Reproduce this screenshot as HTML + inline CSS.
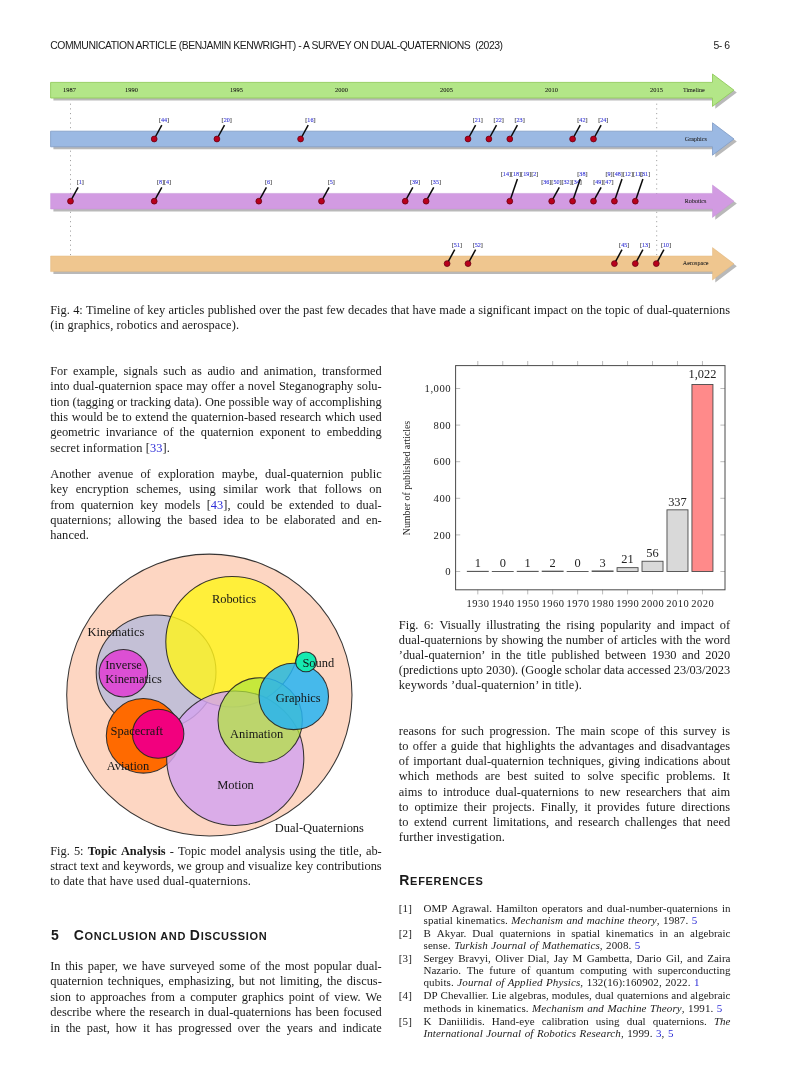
<!DOCTYPE html>
<html><head><meta charset="utf-8">
<style>
html,body{margin:0;padding:0;background:#fff;}
body{width:787px;height:1075px;position:relative;overflow:hidden;-webkit-font-smoothing:antialiased;font-family:"Liberation Serif",serif;color:#1a1a1a;}
.t{position:absolute;white-space:nowrap;letter-spacing:0.1px;}
.t.j{letter-spacing:0;}
.j{display:flex;justify-content:space-between;}
.b{color:#2b2bd6;}
svg{position:absolute;left:0;top:0;overflow:visible;}
.hdr{position:absolute;font-family:"Liberation Sans",sans-serif;font-size:10.4px;letter-spacing:-0.44px;line-height:12px;color:#1a1a1a;white-space:pre;}
.sec{position:absolute;font-family:"Liberation Sans",sans-serif;font-weight:bold;color:#1a1a1a;white-space:nowrap;line-height:16px;}
</style></head><body><div style="position:absolute;left:0;top:0;width:787px;height:1075px;will-change:transform;">
<div class="hdr" style="left:50.2px;top:39.80px;">COMMUNICATION ARTICLE (BENJAMIN KENWRIGHT) - A SURVEY ON DUAL-QUATERNIONS  (2023)</div>
<div class="hdr" style="left:713.4px;top:39.80px;">5- 6</div>
<svg width="787" height="300" style="left:0;top:0">
<defs><filter id="blur" x="-5%" y="-50%" width="110%" height="200%"><feGaussianBlur stdDeviation="0.6"/></filter></defs>
<style>.tl{font-family:"Liberation Serif",serif;font-size:6.1px;fill:#3434d4;stroke:#3434d4;stroke-width:0.1px;} .bk{fill:#333;stroke:#333;} .yl{font-family:"Liberation Serif",serif;font-size:6.4px;fill:#111;stroke:#111;stroke-width:0.05px;} .al{font-family:"Liberation Serif",serif;font-size:6.1px;fill:#222;stroke:#222;stroke-width:0.05px;}</style>
<line x1="70.5" y1="99" x2="70.5" y2="256" stroke="#8a8a8a" stroke-width="0.9" stroke-dasharray="1,3.7"/>
<line x1="656.7" y1="99" x2="656.7" y2="256" stroke="#8a8a8a" stroke-width="0.9" stroke-dasharray="1,3.7"/>
<polygon points="53.4,84.8 715.3,84.8 715.3,76.4 736.8,92.6 715.3,108.8 715.3,100.4 53.4,100.4" fill="#b9b9b9" filter="url(#blur)"/><polygon points="50.6,82.4 712.5,82.4 712.5,74.0 734.0,90.2 712.5,106.4 712.5,98.0 50.6,98.0" fill="#b3e688" stroke="#92cc5c" stroke-width="0.9"/>
<polygon points="53.4,133.6 715.3,133.6 715.3,125.2 736.8,141.4 715.3,157.6 715.3,149.2 53.4,149.2" fill="#b9b9b9" filter="url(#blur)"/><polygon points="50.6,131.2 712.5,131.2 712.5,122.8 734.0,139.0 712.5,155.2 712.5,146.8 50.6,146.8" fill="#9bb9e3" stroke="#86a0c8" stroke-width="0.9"/>
<polygon points="53.4,195.8 715.3,195.8 715.3,187.4 736.8,203.6 715.3,219.8 715.3,211.4 53.4,211.4" fill="#b9b9b9" filter="url(#blur)"/><polygon points="50.6,193.4 712.5,193.4 712.5,185.0 734.0,201.2 712.5,217.4 712.5,209.0 50.6,209.0" fill="#d29be2" stroke="#c592d6" stroke-width="0.5"/>
<polygon points="53.4,258.4 715.3,258.4 715.3,250.0 736.8,266.2 715.3,282.4 715.3,274.0 53.4,274.0" fill="#b9b9b9" filter="url(#blur)"/><polygon points="50.6,256.0 712.5,256.0 712.5,247.6 734.0,263.8 712.5,280.0 712.5,271.6 50.6,271.6" fill="#efc68f" stroke="#e0b880" stroke-width="0.5"/>
<text x="69.5" y="92.3" text-anchor="middle" class="yl">1987</text>
<text x="131.5" y="92.3" text-anchor="middle" class="yl">1990</text>
<text x="236.5" y="92.3" text-anchor="middle" class="yl">1995</text>
<text x="341.5" y="92.3" text-anchor="middle" class="yl">2000</text>
<text x="446.5" y="92.3" text-anchor="middle" class="yl">2005</text>
<text x="551.5" y="92.3" text-anchor="middle" class="yl">2010</text>
<text x="656.5" y="92.3" text-anchor="middle" class="yl">2015</text>
<text x="693.8" y="92.3" text-anchor="middle" class="al">Timeline</text>
<text x="695.8" y="140.8" text-anchor="middle" class="al">Graphics</text>
<text x="695.6" y="203.0" text-anchor="middle" class="al">Robotics</text>
<text x="695.7" y="265.2" text-anchor="middle" class="al">Aerospace</text>
<line x1="154.2" y1="139.0" x2="161.8" y2="125.1" stroke="#0a0a0a" stroke-width="1.5"/><circle cx="154.2" cy="139.0" r="2.9" fill="#b8001c" stroke="#6a0012" stroke-width="0.8"/><text x="164.0" y="122.2" text-anchor="middle" class="tl"><tspan class="bk">[</tspan>44<tspan class="bk">]</tspan></text>
<line x1="216.9" y1="139.0" x2="224.5" y2="125.1" stroke="#0a0a0a" stroke-width="1.5"/><circle cx="216.9" cy="139.0" r="2.9" fill="#b8001c" stroke="#6a0012" stroke-width="0.8"/><text x="226.7" y="122.2" text-anchor="middle" class="tl"><tspan class="bk">[</tspan>20<tspan class="bk">]</tspan></text>
<line x1="300.6" y1="139.0" x2="308.2" y2="125.1" stroke="#0a0a0a" stroke-width="1.5"/><circle cx="300.6" cy="139.0" r="2.9" fill="#b8001c" stroke="#6a0012" stroke-width="0.8"/><text x="310.4" y="122.2" text-anchor="middle" class="tl"><tspan class="bk">[</tspan>16<tspan class="bk">]</tspan></text>
<line x1="468.0" y1="139.0" x2="475.6" y2="125.1" stroke="#0a0a0a" stroke-width="1.5"/><circle cx="468.0" cy="139.0" r="2.9" fill="#b8001c" stroke="#6a0012" stroke-width="0.8"/><text x="477.8" y="122.2" text-anchor="middle" class="tl"><tspan class="bk">[</tspan>21<tspan class="bk">]</tspan></text>
<line x1="488.9" y1="139.0" x2="496.5" y2="125.1" stroke="#0a0a0a" stroke-width="1.5"/><circle cx="488.9" cy="139.0" r="2.9" fill="#b8001c" stroke="#6a0012" stroke-width="0.8"/><text x="498.7" y="122.2" text-anchor="middle" class="tl"><tspan class="bk">[</tspan>22<tspan class="bk">]</tspan></text>
<line x1="509.8" y1="139.0" x2="517.4" y2="125.1" stroke="#0a0a0a" stroke-width="1.5"/><circle cx="509.8" cy="139.0" r="2.9" fill="#b8001c" stroke="#6a0012" stroke-width="0.8"/><text x="519.6" y="122.2" text-anchor="middle" class="tl"><tspan class="bk">[</tspan>23<tspan class="bk">]</tspan></text>
<line x1="572.6" y1="139.0" x2="580.2" y2="125.1" stroke="#0a0a0a" stroke-width="1.5"/><circle cx="572.6" cy="139.0" r="2.9" fill="#b8001c" stroke="#6a0012" stroke-width="0.8"/><text x="582.4" y="122.2" text-anchor="middle" class="tl"><tspan class="bk">[</tspan>42<tspan class="bk">]</tspan></text>
<line x1="593.5" y1="139.0" x2="601.1" y2="125.1" stroke="#0a0a0a" stroke-width="1.5"/><circle cx="593.5" cy="139.0" r="2.9" fill="#b8001c" stroke="#6a0012" stroke-width="0.8"/><text x="603.3" y="122.2" text-anchor="middle" class="tl"><tspan class="bk">[</tspan>24<tspan class="bk">]</tspan></text>
<line x1="70.5" y1="201.2" x2="78.1" y2="187.3" stroke="#0a0a0a" stroke-width="1.5"/><circle cx="70.5" cy="201.2" r="2.9" fill="#b8001c" stroke="#6a0012" stroke-width="0.8"/><text x="80.3" y="184.4" text-anchor="middle" class="tl"><tspan class="bk">[</tspan>1<tspan class="bk">]</tspan></text>
<line x1="154.2" y1="201.2" x2="161.8" y2="187.3" stroke="#0a0a0a" stroke-width="1.5"/><circle cx="154.2" cy="201.2" r="2.9" fill="#b8001c" stroke="#6a0012" stroke-width="0.8"/><text x="164.0" y="184.4" text-anchor="middle" class="tl"><tspan class="bk">[</tspan>8<tspan class="bk">]</tspan><tspan class="bk">[</tspan>4<tspan class="bk">]</tspan></text>
<line x1="258.8" y1="201.2" x2="266.4" y2="187.3" stroke="#0a0a0a" stroke-width="1.5"/><circle cx="258.8" cy="201.2" r="2.9" fill="#b8001c" stroke="#6a0012" stroke-width="0.8"/><text x="268.6" y="184.4" text-anchor="middle" class="tl"><tspan class="bk">[</tspan>6<tspan class="bk">]</tspan></text>
<line x1="321.5" y1="201.2" x2="329.1" y2="187.3" stroke="#0a0a0a" stroke-width="1.5"/><circle cx="321.5" cy="201.2" r="2.9" fill="#b8001c" stroke="#6a0012" stroke-width="0.8"/><text x="331.3" y="184.4" text-anchor="middle" class="tl"><tspan class="bk">[</tspan>5<tspan class="bk">]</tspan></text>
<line x1="405.2" y1="201.2" x2="412.8" y2="187.3" stroke="#0a0a0a" stroke-width="1.5"/><circle cx="405.2" cy="201.2" r="2.9" fill="#b8001c" stroke="#6a0012" stroke-width="0.8"/><text x="415.0" y="184.4" text-anchor="middle" class="tl"><tspan class="bk">[</tspan>39<tspan class="bk">]</tspan></text>
<line x1="426.1" y1="201.2" x2="433.7" y2="187.3" stroke="#0a0a0a" stroke-width="1.5"/><circle cx="426.1" cy="201.2" r="2.9" fill="#b8001c" stroke="#6a0012" stroke-width="0.8"/><text x="435.9" y="184.4" text-anchor="middle" class="tl"><tspan class="bk">[</tspan>35<tspan class="bk">]</tspan></text>
<line x1="509.8" y1="201.2" x2="517.4" y2="178.9" stroke="#0a0a0a" stroke-width="1.5"/><circle cx="509.8" cy="201.2" r="2.9" fill="#b8001c" stroke="#6a0012" stroke-width="0.8"/><text x="519.6" y="176.0" text-anchor="middle" class="tl"><tspan class="bk">[</tspan>14<tspan class="bk">]</tspan><tspan class="bk">[</tspan>18<tspan class="bk">]</tspan><tspan class="bk">[</tspan>19<tspan class="bk">]</tspan><tspan class="bk">[</tspan>2<tspan class="bk">]</tspan></text>
<line x1="551.7" y1="201.2" x2="559.3" y2="187.3" stroke="#0a0a0a" stroke-width="1.5"/><circle cx="551.7" cy="201.2" r="2.9" fill="#b8001c" stroke="#6a0012" stroke-width="0.8"/><text x="561.5" y="184.4" text-anchor="middle" class="tl"><tspan class="bk">[</tspan>36<tspan class="bk">]</tspan><tspan class="bk">[</tspan>50<tspan class="bk">]</tspan><tspan class="bk">[</tspan>32<tspan class="bk">]</tspan><tspan class="bk">[</tspan>34<tspan class="bk">]</tspan></text>
<line x1="572.6" y1="201.2" x2="580.2" y2="178.9" stroke="#0a0a0a" stroke-width="1.5"/><circle cx="572.6" cy="201.2" r="2.9" fill="#b8001c" stroke="#6a0012" stroke-width="0.8"/><text x="582.4" y="176.0" text-anchor="middle" class="tl"><tspan class="bk">[</tspan>38<tspan class="bk">]</tspan></text>
<line x1="593.5" y1="201.2" x2="601.1" y2="187.3" stroke="#0a0a0a" stroke-width="1.5"/><circle cx="593.5" cy="201.2" r="2.9" fill="#b8001c" stroke="#6a0012" stroke-width="0.8"/><text x="603.3" y="184.4" text-anchor="middle" class="tl"><tspan class="bk">[</tspan>49<tspan class="bk">]</tspan><tspan class="bk">[</tspan>47<tspan class="bk">]</tspan></text>
<line x1="614.4" y1="201.2" x2="622.0" y2="178.9" stroke="#0a0a0a" stroke-width="1.5"/><circle cx="614.4" cy="201.2" r="2.9" fill="#b8001c" stroke="#6a0012" stroke-width="0.8"/><text x="624.2" y="176.0" text-anchor="middle" class="tl"><tspan class="bk">[</tspan>9<tspan class="bk">]</tspan><tspan class="bk">[</tspan>48<tspan class="bk">]</tspan><tspan class="bk">[</tspan>12<tspan class="bk">]</tspan><tspan class="bk">[</tspan>11<tspan class="bk">]</tspan></text>
<line x1="635.3" y1="201.2" x2="642.9" y2="178.9" stroke="#0a0a0a" stroke-width="1.5"/><circle cx="635.3" cy="201.2" r="2.9" fill="#b8001c" stroke="#6a0012" stroke-width="0.8"/><text x="645.1" y="176.0" text-anchor="middle" class="tl"><tspan class="bk">[</tspan>31<tspan class="bk">]</tspan></text>
<line x1="447.1" y1="263.6" x2="454.7" y2="249.7" stroke="#0a0a0a" stroke-width="1.5"/><circle cx="447.1" cy="263.6" r="2.9" fill="#b8001c" stroke="#6a0012" stroke-width="0.8"/><text x="456.9" y="246.8" text-anchor="middle" class="tl"><tspan class="bk">[</tspan>51<tspan class="bk">]</tspan></text>
<line x1="468.0" y1="263.6" x2="475.6" y2="249.7" stroke="#0a0a0a" stroke-width="1.5"/><circle cx="468.0" cy="263.6" r="2.9" fill="#b8001c" stroke="#6a0012" stroke-width="0.8"/><text x="477.8" y="246.8" text-anchor="middle" class="tl"><tspan class="bk">[</tspan>52<tspan class="bk">]</tspan></text>
<line x1="614.4" y1="263.6" x2="622.0" y2="249.7" stroke="#0a0a0a" stroke-width="1.5"/><circle cx="614.4" cy="263.6" r="2.9" fill="#b8001c" stroke="#6a0012" stroke-width="0.8"/><text x="624.2" y="246.8" text-anchor="middle" class="tl"><tspan class="bk">[</tspan>45<tspan class="bk">]</tspan></text>
<line x1="635.3" y1="263.6" x2="642.9" y2="249.7" stroke="#0a0a0a" stroke-width="1.5"/><circle cx="635.3" cy="263.6" r="2.9" fill="#b8001c" stroke="#6a0012" stroke-width="0.8"/><text x="645.1" y="246.8" text-anchor="middle" class="tl"><tspan class="bk">[</tspan>13<tspan class="bk">]</tspan></text>
<line x1="656.3" y1="263.6" x2="663.9" y2="249.7" stroke="#0a0a0a" stroke-width="1.5"/><circle cx="656.3" cy="263.6" r="2.9" fill="#b8001c" stroke="#6a0012" stroke-width="0.8"/><text x="666.1" y="246.8" text-anchor="middle" class="tl"><tspan class="bk">[</tspan>10<tspan class="bk">]</tspan></text>
</svg>
<svg width="787" height="1075" style="left:0;top:0">
<style>.cl{font-family:"Liberation Serif",serif;fill:#222;}</style>
<line x1="455.6" y1="571.50" x2="460.20000000000005" y2="571.50" stroke="#aaa" stroke-width="0.8"/>
<line x1="725.0" y1="571.50" x2="720.4" y2="571.50" stroke="#aaa" stroke-width="0.8"/>
<text x="451.1" y="575.10" text-anchor="end" class="cl" style="font-size:10.7px;letter-spacing:0.5px">0</text>
<line x1="455.6" y1="534.90" x2="460.20000000000005" y2="534.90" stroke="#aaa" stroke-width="0.8"/>
<line x1="725.0" y1="534.90" x2="720.4" y2="534.90" stroke="#aaa" stroke-width="0.8"/>
<text x="451.1" y="538.50" text-anchor="end" class="cl" style="font-size:10.7px;letter-spacing:0.5px">200</text>
<line x1="455.6" y1="498.30" x2="460.20000000000005" y2="498.30" stroke="#aaa" stroke-width="0.8"/>
<line x1="725.0" y1="498.30" x2="720.4" y2="498.30" stroke="#aaa" stroke-width="0.8"/>
<text x="451.1" y="501.90" text-anchor="end" class="cl" style="font-size:10.7px;letter-spacing:0.5px">400</text>
<line x1="455.6" y1="461.70" x2="460.20000000000005" y2="461.70" stroke="#aaa" stroke-width="0.8"/>
<line x1="725.0" y1="461.70" x2="720.4" y2="461.70" stroke="#aaa" stroke-width="0.8"/>
<text x="451.1" y="465.30" text-anchor="end" class="cl" style="font-size:10.7px;letter-spacing:0.5px">600</text>
<line x1="455.6" y1="425.10" x2="460.20000000000005" y2="425.10" stroke="#aaa" stroke-width="0.8"/>
<line x1="725.0" y1="425.10" x2="720.4" y2="425.10" stroke="#aaa" stroke-width="0.8"/>
<text x="451.1" y="428.70" text-anchor="end" class="cl" style="font-size:10.7px;letter-spacing:0.5px">800</text>
<line x1="455.6" y1="388.50" x2="460.20000000000005" y2="388.50" stroke="#aaa" stroke-width="0.8"/>
<line x1="725.0" y1="388.50" x2="720.4" y2="388.50" stroke="#aaa" stroke-width="0.8"/>
<text x="451.1" y="392.10" text-anchor="end" class="cl" style="font-size:10.7px;letter-spacing:0.5px">1,000</text>
<line x1="477.80" y1="589.8" x2="477.80" y2="594.4" stroke="#aaa" stroke-width="0.8"/>
<line x1="477.80" y1="365.6" x2="477.80" y2="361.0" stroke="#aaa" stroke-width="0.8"/>
<text x="478.05" y="607.10" text-anchor="middle" class="cl" style="font-size:10.5px;letter-spacing:0.5px">1930</text>
<rect x="467.30" y="571.32" width="21" height="0.18" fill="#d9d9d9" stroke="#4a4a4a" stroke-width="0.9"/>
<text x="477.80" y="567.02" text-anchor="middle" class="cl" style="font-size:12.4px">1</text>
<line x1="502.76" y1="589.8" x2="502.76" y2="594.4" stroke="#aaa" stroke-width="0.8"/>
<line x1="502.76" y1="365.6" x2="502.76" y2="361.0" stroke="#aaa" stroke-width="0.8"/>
<text x="503.01" y="607.10" text-anchor="middle" class="cl" style="font-size:10.5px;letter-spacing:0.5px">1940</text>
<rect x="492.26" y="571.50" width="21" height="0.01" fill="#d9d9d9" stroke="#4a4a4a" stroke-width="0.9"/>
<text x="502.76" y="567.20" text-anchor="middle" class="cl" style="font-size:12.4px">0</text>
<line x1="527.72" y1="589.8" x2="527.72" y2="594.4" stroke="#aaa" stroke-width="0.8"/>
<line x1="527.72" y1="365.6" x2="527.72" y2="361.0" stroke="#aaa" stroke-width="0.8"/>
<text x="527.97" y="607.10" text-anchor="middle" class="cl" style="font-size:10.5px;letter-spacing:0.5px">1950</text>
<rect x="517.22" y="571.32" width="21" height="0.18" fill="#d9d9d9" stroke="#4a4a4a" stroke-width="0.9"/>
<text x="527.72" y="567.02" text-anchor="middle" class="cl" style="font-size:12.4px">1</text>
<line x1="552.68" y1="589.8" x2="552.68" y2="594.4" stroke="#aaa" stroke-width="0.8"/>
<line x1="552.68" y1="365.6" x2="552.68" y2="361.0" stroke="#aaa" stroke-width="0.8"/>
<text x="552.93" y="607.10" text-anchor="middle" class="cl" style="font-size:10.5px;letter-spacing:0.5px">1960</text>
<rect x="542.18" y="571.13" width="21" height="0.37" fill="#d9d9d9" stroke="#4a4a4a" stroke-width="0.9"/>
<text x="552.68" y="566.83" text-anchor="middle" class="cl" style="font-size:12.4px">2</text>
<line x1="577.64" y1="589.8" x2="577.64" y2="594.4" stroke="#aaa" stroke-width="0.8"/>
<line x1="577.64" y1="365.6" x2="577.64" y2="361.0" stroke="#aaa" stroke-width="0.8"/>
<text x="577.89" y="607.10" text-anchor="middle" class="cl" style="font-size:10.5px;letter-spacing:0.5px">1970</text>
<rect x="567.14" y="571.50" width="21" height="0.01" fill="#d9d9d9" stroke="#4a4a4a" stroke-width="0.9"/>
<text x="577.64" y="567.20" text-anchor="middle" class="cl" style="font-size:12.4px">0</text>
<line x1="602.60" y1="589.8" x2="602.60" y2="594.4" stroke="#aaa" stroke-width="0.8"/>
<line x1="602.60" y1="365.6" x2="602.60" y2="361.0" stroke="#aaa" stroke-width="0.8"/>
<text x="602.85" y="607.10" text-anchor="middle" class="cl" style="font-size:10.5px;letter-spacing:0.5px">1980</text>
<rect x="592.10" y="570.95" width="21" height="0.55" fill="#d9d9d9" stroke="#4a4a4a" stroke-width="0.9"/>
<text x="602.60" y="566.65" text-anchor="middle" class="cl" style="font-size:12.4px">3</text>
<line x1="627.56" y1="589.8" x2="627.56" y2="594.4" stroke="#aaa" stroke-width="0.8"/>
<line x1="627.56" y1="365.6" x2="627.56" y2="361.0" stroke="#aaa" stroke-width="0.8"/>
<text x="627.81" y="607.10" text-anchor="middle" class="cl" style="font-size:10.5px;letter-spacing:0.5px">1990</text>
<rect x="617.06" y="567.66" width="21" height="3.84" fill="#d9d9d9" stroke="#4a4a4a" stroke-width="0.9"/>
<text x="627.56" y="563.36" text-anchor="middle" class="cl" style="font-size:12.4px">21</text>
<line x1="652.52" y1="589.8" x2="652.52" y2="594.4" stroke="#aaa" stroke-width="0.8"/>
<line x1="652.52" y1="365.6" x2="652.52" y2="361.0" stroke="#aaa" stroke-width="0.8"/>
<text x="652.77" y="607.10" text-anchor="middle" class="cl" style="font-size:10.5px;letter-spacing:0.5px">2000</text>
<rect x="642.02" y="561.25" width="21" height="10.25" fill="#d9d9d9" stroke="#4a4a4a" stroke-width="0.9"/>
<text x="652.52" y="556.95" text-anchor="middle" class="cl" style="font-size:12.4px">56</text>
<line x1="677.48" y1="589.8" x2="677.48" y2="594.4" stroke="#aaa" stroke-width="0.8"/>
<line x1="677.48" y1="365.6" x2="677.48" y2="361.0" stroke="#aaa" stroke-width="0.8"/>
<text x="677.73" y="607.10" text-anchor="middle" class="cl" style="font-size:10.5px;letter-spacing:0.5px">2010</text>
<rect x="666.98" y="509.83" width="21" height="61.67" fill="#d9d9d9" stroke="#4a4a4a" stroke-width="0.9"/>
<text x="677.48" y="505.53" text-anchor="middle" class="cl" style="font-size:12.4px">337</text>
<line x1="702.44" y1="589.8" x2="702.44" y2="594.4" stroke="#aaa" stroke-width="0.8"/>
<line x1="702.44" y1="365.6" x2="702.44" y2="361.0" stroke="#aaa" stroke-width="0.8"/>
<text x="702.69" y="607.10" text-anchor="middle" class="cl" style="font-size:10.5px;letter-spacing:0.5px">2020</text>
<rect x="691.94" y="384.47" width="21" height="187.03" fill="#ff8a8a" stroke="#4a4a4a" stroke-width="0.9"/>
<text x="702.44" y="378.17" text-anchor="middle" class="cl" style="font-size:12.4px">1,022</text>
<rect x="455.6" y="365.6" width="269.4" height="224.19999999999993" fill="none" stroke="#4a4a4a" stroke-width="1"/>
<text transform="translate(410.3,478) rotate(-90)" text-anchor="middle" class="cl" style="font-size:9.83px">Number of published articles</text>
</svg>
<svg width="787" height="1075" style="left:0;top:0">
<style>.vl{font-family:"Liberation Serif",serif;font-size:12.45px;fill:#151515;}</style>
<ellipse cx="209.35" cy="695.05" rx="142.65" ry="140.95" fill="#fdd6c2" fill-opacity="1.0" stroke="#222" stroke-opacity="0.9" stroke-width="1.05"/>
<ellipse cx="156.1" cy="672.0" rx="59.9" ry="57.0" fill="#c4c0d6" fill-opacity="1.0" stroke="#222" stroke-opacity="0.9" stroke-width="1.05"/>
<ellipse cx="232.2" cy="641.7" rx="66.4" ry="65.3" fill="#fff41c" fill-opacity="0.82" stroke="#222" stroke-opacity="0.9" stroke-width="1.05"/>
<ellipse cx="123.4" cy="673.2" rx="24.3" ry="23.7" fill="#dc4fd4" fill-opacity="1.0" stroke="#222" stroke-opacity="0.9" stroke-width="1.05"/>
<ellipse cx="143.4" cy="735.8" rx="37.1" ry="37.3" fill="#ff6a00" fill-opacity="1.0" stroke="#222" stroke-opacity="0.9" stroke-width="1.05"/>
<ellipse cx="235.25" cy="758.25" rx="68.55" ry="67.25" fill="#d3a5ee" fill-opacity="0.85" stroke="#222" stroke-opacity="0.9" stroke-width="1.05"/>
<ellipse cx="158.15" cy="733.8" rx="25.7" ry="24.5" fill="#f2007e" fill-opacity="1.0" stroke="#222" stroke-opacity="0.9" stroke-width="1.05"/>
<ellipse cx="260.2" cy="720.2" rx="42.2" ry="42.5" fill="#b0e43c" fill-opacity="0.72" stroke="#222" stroke-opacity="0.9" stroke-width="1.05"/>
<ellipse cx="293.75" cy="696.4" rx="34.75" ry="33.2" fill="#26b4f2" fill-opacity="0.85" stroke="#222" stroke-opacity="0.9" stroke-width="1.05"/>
<ellipse cx="306.0" cy="661.9" rx="10.3" ry="9.9" fill="#16eab0" fill-opacity="1.0" stroke="#222" stroke-opacity="0.9" stroke-width="1.05"/>
<text x="211.9" y="603.0" class="vl">Robotics</text>
<text x="87.6" y="636.3" class="vl">Kinematics</text>
<text x="105.2" y="668.7" class="vl">Inverse</text>
<text x="105.2" y="683.0" class="vl">Kinematics</text>
<text x="302.4" y="667.2" class="vl">Sound</text>
<text x="275.8" y="702.0" class="vl">Graphics</text>
<text x="110.5" y="734.9" class="vl">Spacecraft</text>
<text x="230.0" y="738.1" class="vl">Animation</text>
<text x="106.7" y="770.1" class="vl">Aviation</text>
<text x="217.2" y="789.2" class="vl">Motion</text>
<text x="274.8" y="832.1" class="vl">Dual-Quaternions</text>
</svg>
<div class="t j" style="left:50.2px;width:680px;top:302.71px;font-size:12.4px;line-height:15.2px;"><span>Fig.</span><span>4:</span><span>Timeline</span><span>of</span><span>key</span><span>articles</span><span>published</span><span>over</span><span>the</span><span>past</span><span>few</span><span>decades</span><span>that</span><span>have</span><span>made</span><span>a</span><span>significant</span><span>impact</span><span>on</span><span>the</span><span>topic</span><span>of</span><span>dual-quaternions</span></div>
<div class="t" style="left:50.2px;top:317.81px;font-size:12.4px;line-height:15.2px;">(in graphics, robotics and aerospace).</div>
<div class="t j" style="left:50.2px;width:331.6px;top:363.81px;font-size:12.4px;line-height:15.2px;"><span>For</span><span>example,</span><span>signals</span><span>such</span><span>as</span><span>audio</span><span>and</span><span>animation,</span><span>transformed</span></div>
<div class="t j" style="left:50.2px;width:331.6px;top:379.15px;font-size:12.4px;line-height:15.2px;"><span>into</span><span>dual-quaternion</span><span>space</span><span>may</span><span>offer</span><span>a</span><span>novel</span><span>Steganography</span><span>solu-</span></div>
<div class="t j" style="left:50.2px;width:331.6px;top:394.50px;font-size:12.4px;line-height:15.2px;"><span>tion</span><span>(tagging</span><span>or</span><span>tracking</span><span>data).</span><span>One</span><span>possible</span><span>way</span><span>of</span><span>accomplishing</span></div>
<div class="t j" style="left:50.2px;width:331.6px;top:409.83px;font-size:12.4px;line-height:15.2px;"><span>this</span><span>would</span><span>be</span><span>to</span><span>extend</span><span>the</span><span>quaternion-based</span><span>research</span><span>which</span><span>used</span></div>
<div class="t j" style="left:50.2px;width:331.6px;top:425.18px;font-size:12.4px;line-height:15.2px;"><span>geometric</span><span>invariance</span><span>of</span><span>the</span><span>quaternion</span><span>exponent</span><span>to</span><span>embedding</span></div>
<div class="t" style="left:50.2px;top:440.51px;font-size:12.4px;line-height:15.2px;">secret information [<span class="b">33</span>].</div>
<div class="t j" style="left:50.2px;width:331.6px;top:467.12px;font-size:12.4px;line-height:15.2px;"><span>Another</span><span>avenue</span><span>of</span><span>exploration</span><span>maybe,</span><span>dual-quaternion</span><span>public</span></div>
<div class="t j" style="left:50.2px;width:331.6px;top:482.31px;font-size:12.4px;line-height:15.2px;"><span>key</span><span>encryption</span><span>schemes,</span><span>using</span><span>similar</span><span>work</span><span>that</span><span>follows</span><span>on</span></div>
<div class="t j" style="left:50.2px;width:331.6px;top:497.51px;font-size:12.4px;line-height:15.2px;"><span>from</span><span>quaternion</span><span>key</span><span>models</span><span>[<span class="b">43</span>],</span><span>could</span><span>be</span><span>extended</span><span>to</span><span>dual-</span></div>
<div class="t j" style="left:50.2px;width:331.6px;top:512.72px;font-size:12.4px;line-height:15.2px;"><span>quaternions;</span><span>allowing</span><span>the</span><span>based</span><span>idea</span><span>to</span><span>be</span><span>elaborated</span><span>and</span><span>en-</span></div>
<div class="t" style="left:50.2px;top:527.91px;font-size:12.4px;line-height:15.2px;">hanced.</div>
<div class="t j" style="left:50.2px;width:331.6px;top:844.41px;font-size:12.4px;line-height:15.2px;"><span>Fig.</span><span>5:</span><span><b>Topic</b></span><span><b>Analysis</b></span><span>-</span><span>Topic</span><span>model</span><span>analysis</span><span>using</span><span>the</span><span>title,</span><span>ab-</span></div>
<div class="t j" style="left:50.2px;width:331.6px;top:859.41px;font-size:12.4px;line-height:15.2px;"><span>stract</span><span>text</span><span>and</span><span>keywords,</span><span>we</span><span>group</span><span>and</span><span>visualize</span><span>key</span><span>contributions</span></div>
<div class="t" style="left:50.2px;top:874.41px;font-size:12.4px;line-height:15.2px;">to date that have used dual-quaternions.</div>
<div class="t j" style="left:50.2px;width:331.6px;top:958.91px;font-size:12.4px;line-height:15.2px;"><span>In</span><span>this</span><span>paper,</span><span>we</span><span>have</span><span>surveyed</span><span>some</span><span>of</span><span>the</span><span>most</span><span>popular</span><span>dual-</span></div>
<div class="t j" style="left:50.2px;width:331.6px;top:974.31px;font-size:12.4px;line-height:15.2px;"><span>quaternion</span><span>techniques,</span><span>emphasizing,</span><span>but</span><span>not</span><span>limiting,</span><span>the</span><span>discus-</span></div>
<div class="t j" style="left:50.2px;width:331.6px;top:989.71px;font-size:12.4px;line-height:15.2px;"><span>sion</span><span>to</span><span>approaches</span><span>from</span><span>a</span><span>computer</span><span>graphics</span><span>point</span><span>of</span><span>view.</span><span>We</span></div>
<div class="t j" style="left:50.2px;width:331.6px;top:1005.12px;font-size:12.4px;line-height:15.2px;"><span>describe</span><span>where</span><span>the</span><span>research</span><span>in</span><span>dual-quaternions</span><span>has</span><span>been</span><span>focused</span></div>
<div class="t j" style="left:50.2px;width:331.6px;top:1020.51px;font-size:12.4px;line-height:15.2px;"><span>in</span><span>the</span><span>past,</span><span>how</span><span>it</span><span>has</span><span>progressed</span><span>over</span><span>the</span><span>years</span><span>and</span><span>indicate</span></div>
<div class="t j" style="left:398.8px;width:331.4px;top:617.62px;font-size:12.4px;line-height:15.2px;"><span>Fig.</span><span>6:</span><span>Visually</span><span>illustrating</span><span>the</span><span>rising</span><span>popularity</span><span>and</span><span>impact</span><span>of</span></div>
<div class="t j" style="left:398.8px;width:331.4px;top:632.62px;font-size:12.4px;line-height:15.2px;"><span>dual-quaternions</span><span>by</span><span>showing</span><span>the</span><span>number</span><span>of</span><span>articles</span><span>with</span><span>the</span><span>word</span></div>
<div class="t j" style="left:398.8px;width:331.4px;top:647.62px;font-size:12.4px;line-height:15.2px;"><span>’dual-quaternion’</span><span>in</span><span>the</span><span>title</span><span>published</span><span>between</span><span>1930</span><span>and</span><span>2020</span></div>
<div class="t j" style="left:398.8px;width:331.4px;top:662.62px;font-size:12.4px;line-height:15.2px;"><span>(predictions</span><span>upto</span><span>2030).</span><span>(Google</span><span>scholar</span><span>data</span><span>accessed</span><span>23/03/2023</span></div>
<div class="t" style="left:398.8px;top:677.62px;font-size:12.4px;line-height:15.2px;">keywords ’dual-quaternion’ in title).</div>
<div class="t j" style="left:398.8px;width:331.4px;top:723.76px;font-size:12.4px;line-height:15.2px;"><span>reasons</span><span>for</span><span>such</span><span>progression.</span><span>The</span><span>main</span><span>scope</span><span>of</span><span>this</span><span>survey</span><span>is</span></div>
<div class="t j" style="left:398.8px;width:331.4px;top:738.99px;font-size:12.4px;line-height:15.2px;"><span>to</span><span>offer</span><span>a</span><span>guide</span><span>that</span><span>highlights</span><span>the</span><span>advantages</span><span>and</span><span>disadvantages</span></div>
<div class="t j" style="left:398.8px;width:331.4px;top:754.21px;font-size:12.4px;line-height:15.2px;"><span>of</span><span>important</span><span>dual-quaternion</span><span>techniques,</span><span>giving</span><span>indications</span><span>about</span></div>
<div class="t j" style="left:398.8px;width:331.4px;top:769.42px;font-size:12.4px;line-height:15.2px;"><span>which</span><span>methods</span><span>are</span><span>best</span><span>suited</span><span>to</span><span>solve</span><span>specific</span><span>problems.</span><span>It</span></div>
<div class="t j" style="left:398.8px;width:331.4px;top:784.64px;font-size:12.4px;line-height:15.2px;"><span>aims</span><span>to</span><span>introduce</span><span>dual-quaternions</span><span>to</span><span>new</span><span>researchers</span><span>that</span><span>aim</span></div>
<div class="t j" style="left:398.8px;width:331.4px;top:799.87px;font-size:12.4px;line-height:15.2px;"><span>to</span><span>optimize</span><span>their</span><span>projects.</span><span>Finally,</span><span>it</span><span>provides</span><span>future</span><span>directions</span></div>
<div class="t j" style="left:398.8px;width:331.4px;top:815.09px;font-size:12.4px;line-height:15.2px;"><span>to</span><span>extend</span><span>current</span><span>limitations,</span><span>and</span><span>research</span><span>challenges</span><span>that</span><span>need</span></div>
<div class="t" style="left:398.8px;top:830.30px;font-size:12.4px;line-height:15.2px;">further investigation.</div>
<div class="t" style="left:398.8px;top:902.23px;font-size:11.0px;line-height:12px;">[1]</div>
<div class="t j" style="left:423.5px;width:307px;top:902.23px;font-size:11.0px;line-height:12px;"><span>OMP</span><span>Agrawal.</span><span>Hamilton</span><span>operators</span><span>and</span><span>dual-number-quaternions</span><span>in</span></div>
<div class="t" style="left:423.5px;top:914.29px;font-size:11.0px;line-height:12px;word-spacing:0.6px;">spatial kinematics. <i>Mechanism and machine theory</i>, 1987. <span class="b">5</span></div>
<div class="t" style="left:398.8px;top:927.28px;font-size:11.0px;line-height:12px;">[2]</div>
<div class="t j" style="left:423.5px;width:307px;top:927.28px;font-size:11.0px;line-height:12px;"><span>B</span><span>Akyar.</span><span>Dual</span><span>quaternions</span><span>in</span><span>spatial</span><span>kinematics</span><span>in</span><span>an</span><span>algebraic</span></div>
<div class="t" style="left:423.5px;top:939.35px;font-size:11.0px;line-height:12px;word-spacing:0.6px;">sense. <i>Turkish Journal of Mathematics</i>, 2008. <span class="b">5</span></div>
<div class="t" style="left:398.8px;top:952.33px;font-size:11.0px;line-height:12px;">[3]</div>
<div class="t j" style="left:423.5px;width:307px;top:952.33px;font-size:11.0px;line-height:12px;"><span>Sergey</span><span>Bravyi,</span><span>Oliver</span><span>Dial,</span><span>Jay</span><span>M</span><span>Gambetta,</span><span>Dario</span><span>Gil,</span><span>and</span><span>Zaira</span></div>
<div class="t j" style="left:423.5px;width:307px;top:964.40px;font-size:11.0px;line-height:12px;"><span>Nazario.</span><span>The</span><span>future</span><span>of</span><span>quantum</span><span>computing</span><span>with</span><span>superconducting</span></div>
<div class="t" style="left:423.5px;top:976.46px;font-size:11.0px;line-height:12px;word-spacing:0.6px;">qubits. <i>Journal of Applied Physics</i>, 132(16):160902, 2022. <span class="b">1</span></div>
<div class="t" style="left:398.8px;top:989.45px;font-size:11.0px;line-height:12px;">[4]</div>
<div class="t j" style="left:423.5px;width:307px;top:989.45px;font-size:11.0px;line-height:12px;"><span>DP</span><span>Chevallier.</span><span>Lie</span><span>algebras,</span><span>modules,</span><span>dual</span><span>quaternions</span><span>and</span><span>algebraic</span></div>
<div class="t" style="left:423.5px;top:1001.51px;font-size:11.0px;line-height:12px;word-spacing:0.6px;">methods in kinematics. <i>Mechanism and Machine Theory</i>, 1991. <span class="b">5</span></div>
<div class="t" style="left:398.8px;top:1014.50px;font-size:11.0px;line-height:12px;">[5]</div>
<div class="t j" style="left:423.5px;width:307px;top:1014.50px;font-size:11.0px;line-height:12px;"><span>K</span><span>Daniilidis.</span><span>Hand-eye</span><span>calibration</span><span>using</span><span>dual</span><span>quaternions.</span><span><i>The</i></span></div>
<div class="t" style="left:423.5px;top:1026.57px;font-size:11.0px;line-height:12px;word-spacing:0.6px;"><i>International Journal of Robotics Research</i>, 1999. <span class="b">3</span>, <span class="b">5</span></div>
<div class="sec" style="left:51px;top:927.00px;font-size:14px;letter-spacing:0.7px;">5<span style="display:inline-block;width:14.2px"></span>C<span style="font-size:11px;">ONCLUSION AND </span>D<span style="font-size:11px;">ISCUSSION</span></div>
<div class="sec" style="left:399.3px;top:871.70px;font-size:14px;letter-spacing:0.7px;">R<span style="font-size:11px;">EFERENCES</span></div>
</div></body></html>
